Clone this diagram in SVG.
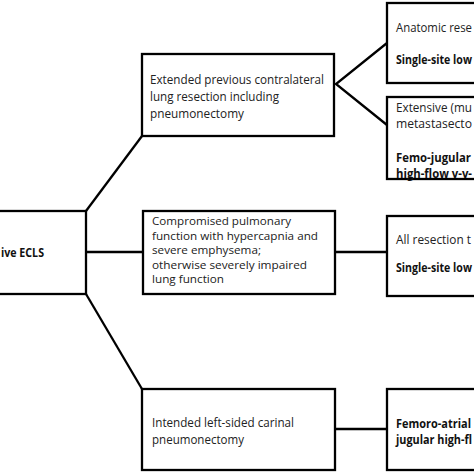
<svg xmlns="http://www.w3.org/2000/svg" width="474" height="474" viewBox="0 0 474 474">
<style>
.box{fill:#fff;stroke:#000;stroke-width:2.3}
.ln{fill:none;stroke:#000;stroke-width:2.3}
text{font-family:"Open Sans","Liberation Sans",Arial,sans-serif;font-size:12.2px;fill:#222}
.s{font-size:11.6px}
.b{font-weight:bold;fill:#111}
</style>
<rect width="474" height="474" fill="#fff"/>
<g id="connectors">
<path class="ln" d="M86,211 L142,136"/>
<path class="ln" d="M86,252 L143,252"/>
<path class="ln" d="M86,294 L142,389"/>
<path class="ln" d="M387,43 L336,84 L387,125"/>
<path class="ln" d="M335,252 L387,252"/>
<path class="ln" d="M335,429 L387,429"/>
</g>
<g id="root">
<rect class="box" x="-10" y="211" width="96" height="83"/>
<text class="b" x="1" y="257" textLength="43" lengthAdjust="spacingAndGlyphs">ive ECLS</text>
</g>
<g id="n1">
<rect class="box" x="142" y="54" width="192" height="82"/>
<text x="150" y="84" textLength="174" lengthAdjust="spacingAndGlyphs">Extended previous contralateral</text>
<text x="150" y="101" textLength="129" lengthAdjust="spacingAndGlyphs">lung resection including</text>
<text x="150" y="118" textLength="94" lengthAdjust="spacingAndGlyphs">pneumonectomy</text>
</g>
<g id="n2">
<rect class="box" x="143" y="211" width="192" height="83"/>
<text class="s" x="152" y="225" textLength="139" lengthAdjust="spacingAndGlyphs">Compromised pulmonary</text>
<text class="s" x="152" y="239.5" textLength="166" lengthAdjust="spacingAndGlyphs">function with hypercapnia and</text>
<text class="s" x="152" y="254" textLength="109" lengthAdjust="spacingAndGlyphs">severe emphysema;</text>
<text class="s" x="152" y="268.5" textLength="155" lengthAdjust="spacingAndGlyphs">otherwise severely impaired</text>
<text class="s" x="152" y="283" textLength="72" lengthAdjust="spacingAndGlyphs">lung function</text>
</g>
<g id="n3">
<rect class="box" x="142" y="389" width="193" height="81"/>
<text x="152" y="427" textLength="142" lengthAdjust="spacingAndGlyphs">Intended left-sided carinal</text>
<text x="152" y="444" textLength="92" lengthAdjust="spacingAndGlyphs">pneumonectomy</text>
</g>
<g id="nA">
<rect class="box" x="387" y="3" width="100" height="80"/>
<text x="396" y="32" textLength="76" lengthAdjust="spacingAndGlyphs">Anatomic rese</text>
<text class="b" x="396" y="64" textLength="76" lengthAdjust="spacingAndGlyphs">Single-site low</text>
</g>
<g id="nB">
<rect class="box" x="387" y="97" width="100" height="82"/>
<text x="396" y="112" textLength="76" lengthAdjust="spacingAndGlyphs">Extensive (mu</text>
<text x="396" y="128" textLength="76" lengthAdjust="spacingAndGlyphs">metastasecto</text>
<text class="b" x="396" y="162" textLength="75" lengthAdjust="spacingAndGlyphs">Femo-jugular</text>
<text class="b" x="396" y="178" textLength="76" lengthAdjust="spacingAndGlyphs">high-flow v-v-</text>
</g>
<g id="nC">
<rect class="box" x="387" y="216" width="100" height="80"/>
<text x="396" y="244" textLength="75" lengthAdjust="spacingAndGlyphs">All resection t</text>
<text class="b" x="396" y="272" textLength="76" lengthAdjust="spacingAndGlyphs">Single-site low</text>
</g>
<g id="nD">
<rect class="box" x="387" y="389" width="100" height="81"/>
<text class="b" x="396" y="428" textLength="75" lengthAdjust="spacingAndGlyphs">Femoro-atrial</text>
<text class="b" x="396" y="444" textLength="76" lengthAdjust="spacingAndGlyphs">jugular high-fl</text>
</g>
</svg>
